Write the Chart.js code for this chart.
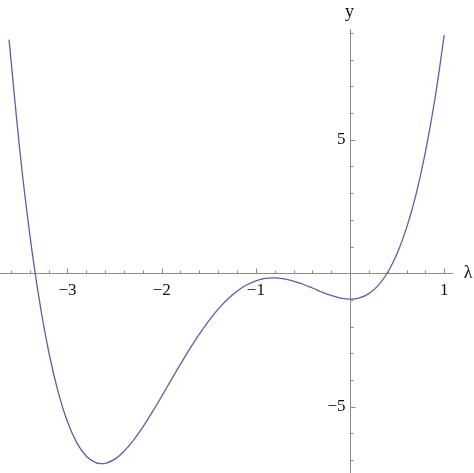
<!DOCTYPE html>
<html>
<head>
<meta charset="utf-8">
<script src="https://cdn.jsdelivr.net/npm/chart.js@4"></script>
<style>
  html, body { margin: 0; padding: 0; background: #fff; }
  #wrap { width: 474px; height: 473px; position: relative; }
</style>
</head>
<body>
<div id="wrap"><canvas id="plot"></canvas></div>
<script>
// curve samples
var lambdaValues = [-3.62, -3.5, -3.4, -3.3, -3.2, -3.1, -3.0, -2.9, -2.8, -2.7, -2.64, -2.6, -2.5, -2.4, -2.3, -2.2, -2.1,
  -2.0, -1.9, -1.8, -1.7, -1.6, -1.5, -1.4, -1.3, -1.2, -1.1, -1.0, -0.9, -0.8, -0.7, -0.6, -0.5, -0.4,
  -0.3, -0.2, -0.1, 0, 0.1, 0.2, 0.3, 0.4, 0.5, 0.6, 0.7, 0.8, 0.9, 1.0];
var yValues = [8.75, 4.42, 1.46, -0.97, -2.92, -4.43, -5.56, -6.35, -6.85, -7.09, -7.13, -7.12, -6.97, -6.67, -6.26, -5.76, -5.20,
  -4.61, -4.00, -3.40, -2.82, -2.28, -1.78, -1.34, -0.97, -0.67, -0.44, -0.28, -0.19, -0.17, -0.21, -0.29, -0.41, -0.55,
  -0.70, -0.83, -0.93, -0.97, -0.92, -0.76, -0.45, 0.04, 0.74, 1.70, 2.95, 4.54, 6.51, 8.92];

// ticks
var xMajorTicks = [-3, -2, -1, 1];
var xTickLabels = ['\u22123', '\u22122', '\u22121', '1'];
var yMajorTicks = [5, -5];
var yTickLabels = ['5', '\u22125'];
var xMinorStep = 0.2;
var yMinorStep = 1;

var points = lambdaValues.map(function(l, i) { return { x: l, y: yValues[i] }; });

var serif = '"Liberation Serif", "Times New Roman", Times, serif';

// draws the Mathematica style axes crossing at the origin
var axesPlugin = {
  id: 'axesPlugin',
  beforeDatasetsDraw: function(chart) {
    var ctx = chart.ctx;
    var xs = chart.scales.x;
    var ys = chart.scales.y;
    var area = chart.chartArea;
    var x0 = Math.round(xs.getPixelForValue(0)) + 0.5;
    var y0 = Math.round(ys.getPixelForValue(0)) + 0.5;

    ctx.save();
    ctx.strokeStyle = '#8a8a8a';
    ctx.lineWidth = 1;
    ctx.beginPath();
    ctx.moveTo(area.left, y0);
    ctx.lineTo(area.right, y0);
    ctx.moveTo(x0, area.top);
    ctx.lineTo(x0, area.bottom);
    ctx.stroke();

    // x ticks, pointing up
    ctx.beginPath();
    for (var v = Math.ceil(xs.min / xMinorStep) * xMinorStep; v <= xs.max + 1e-9; v += xMinorStep) {
      var r = Math.round(v * 10) / 10;
      var major = Math.abs(r - Math.round(r)) < 1e-6;
      var px = Math.round(xs.getPixelForValue(r)) + 0.5;
      ctx.moveTo(px, y0);
      ctx.lineTo(px, y0 - (major ? 5 : 3));
    }
    // y ticks, pointing right
    for (var w = Math.ceil(ys.min / yMinorStep) * yMinorStep; w <= ys.max + 1e-9; w += yMinorStep) {
      var py = Math.round(ys.getPixelForValue(w)) + 0.5;
      var maj = w % 5 === 0;
      ctx.moveTo(x0, py);
      ctx.lineTo(x0 + (maj ? 5 : 3), py);
    }
    ctx.stroke();

    ctx.fillStyle = '#111';
    ctx.font = '17px ' + serif;
    ctx.textAlign = 'center';
    ctx.textBaseline = 'top';
    xMajorTicks.forEach(function(t, i) {
      ctx.fillText(xTickLabels[i], xs.getPixelForValue(t), y0 + 9);
    });
    ctx.textAlign = 'right';
    ctx.textBaseline = 'middle';
    yMajorTicks.forEach(function(t, i) {
      ctx.fillText(yTickLabels[i], x0 - 5, ys.getPixelForValue(t));
    });

    // axis names
    ctx.font = '18px ' + serif;
    ctx.textAlign = 'center';
    ctx.fillText('\u03bb', 468, y0);
    ctx.fillText('y', x0 - 1, 12);
    ctx.restore();
  }
};

new Chart(document.getElementById('plot'), {
  type: 'line',
  data: {
    datasets: [{
      data: points,
      borderColor: '#5e5eaa',
      borderWidth: 1.3,
      pointRadius: 0,
      fill: false,
      tension: 0.4
    }]
  },
  options: {
    responsive: true,
    maintainAspectRatio: false,
    animation: false,
    layout: { padding: { left: 0, right: 21, top: 29, bottom: 0 } },
    plugins: { legend: { display: false }, tooltip: { enabled: false } },
    scales: {
      x: { type: 'linear', min: -3.716, max: 1.093, display: false },
      y: { type: 'linear', min: -7.48, max: 9.15, display: false }
    }
  },
  plugins: [axesPlugin]
});
</script>
</body>
</html>
